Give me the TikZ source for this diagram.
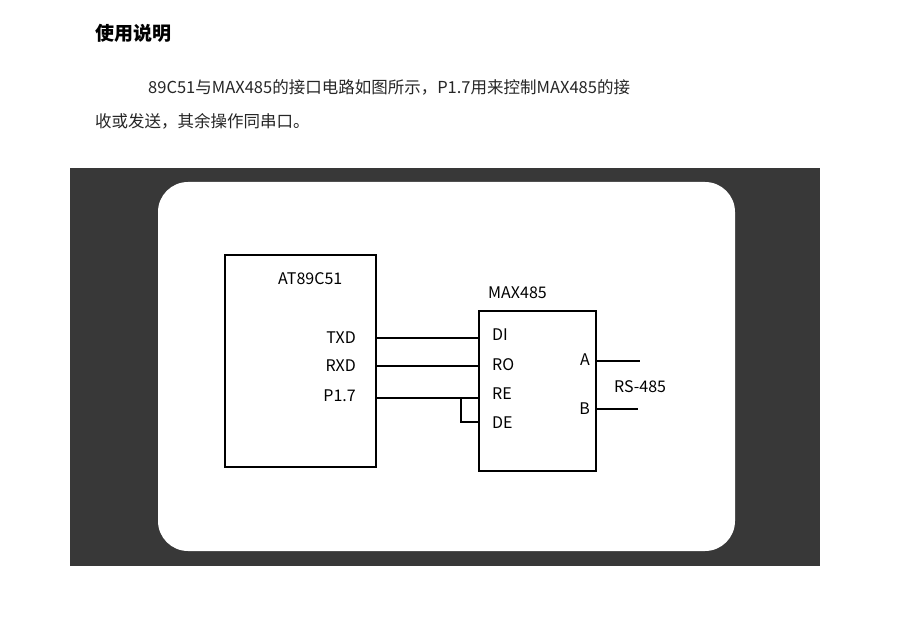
\documentclass[tikz,border=0pt]{standalone}
\usepackage{fontspec}
\setmainfont{Noto Sans CJK SC}
\newfontfamily\cjk{Noto Sans CJK SC}
\begin{document}
\begin{tikzpicture}[x=1pt,y=-1pt,
  lbl/.style={inner sep=0pt,font=\fontsize{16}{18}\selectfont},
  wire/.style={line width=1.3pt,black},
  box/.style={draw,line width=1.3pt}]
\useasboundingbox (0,0) rectangle (919,628);
\fill[white] (0,0) rectangle (919,628);
\node[anchor=west,inner sep=0pt,font=\cjk\fontsize{19}{22}\selectfont\bfseries] (title) at (95,33) {使用说明};
\node[anchor=west,inner sep=0pt,font=\cjk\fontsize{16.5}{20}\selectfont,text=black!85] (p1) at (148,87) {89C51与MAX485的接口电路如图所示，P1.7用来控制MAX485的接};
\node[anchor=west,inner sep=0pt,font=\cjk\fontsize{16.5}{20}\selectfont,text=black!85] (p2) at (95,121) {收或发送，其余操作同串口。};
\fill[black!78] (70,168) rectangle (820,566);
\fill[white,rounded corners=30pt] (158,182) rectangle (735,551);
\draw[box] (225,255) rectangle (376,467);
\draw[box] (479,311) rectangle (596,471);
\node[lbl,anchor=west] (at) at (278,279) {AT89C51};
\node[lbl,anchor=west] (mx) at (488,293) {MAX485};
\node[lbl,anchor=east] (txd) at (356,338) {TXD};
\node[lbl,anchor=east] (rxd) at (356,366) {RXD};
\node[lbl,anchor=east] (p17) at (356,396) {P1.7};
\node[lbl,anchor=west] (di) at (492,335) {DI};
\node[lbl,anchor=west] (ro) at (492,365) {RO};
\node[lbl,anchor=west] (re) at (492,394) {RE};
\node[lbl,anchor=west] (de) at (492,423) {DE};
\node[lbl,anchor=east] (a) at (590,360) {A};
\node[lbl,anchor=east] (b) at (590,409) {B};
\node[lbl,anchor=west] (rs) at (614,387) {RS-485};
\coordinate (j) at (461,398);
\coordinate (ae) at (640,361);
\coordinate (be) at (638,409);
\draw[wire] (376,338) -- (479,338);
\draw[wire] (376,366) -- (479,366);
\draw[wire] (376,398) -- (479,398);
\draw[wire] (j) -- (461,422) -- (479,422);
\draw[wire] (596,361) -- (ae);
\draw[wire] (596,409) -- (be);
\end{tikzpicture}
\end{document}
